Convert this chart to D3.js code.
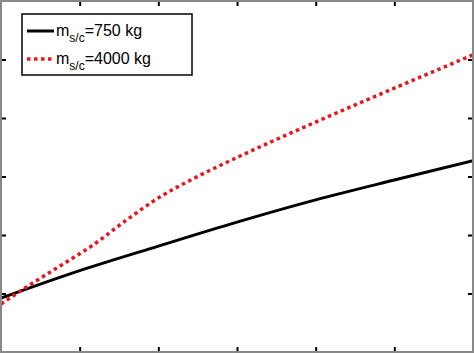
<!DOCTYPE html>
<html>
  <head>
    <meta charset="utf-8">
    <script src="https://d3js.org/d3.v7.min.js"></script>
    <style>
      body { margin: 0; background: white; }
      svg { display: block; font-family: 'Liberation Sans', Arial, sans-serif; }
    </style>
  </head>
  <body>
    <div id="wrapper"></div>
    <script>

const w = 474
const h = 353

// values (axis units, labels are cropped away)
const xTicks = [1, 2, 3, 4, 5]
const yTicks = [1, 2, 3, 4, 5]

const lightX = [0, 1, 2, 3, 4, 5, 6]
const lightY = [0.92, 1.39, 1.81, 2.22, 2.60, 2.94, 3.27]

const heavyX = [0, 0.37, 0.75, 1.17, 1.6, 2.02, 2.44, 3.04, 4, 5, 6]
const heavyY = [0.82, 1.15, 1.47, 1.83, 2.26, 2.65, 2.96, 3.35, 3.93, 4.51, 5.08]

const seriesNames = ["750 kg", "4000 kg"]

const x = d3.scaleLinear().domain([0, 6]).range([1, 473])
const y = d3.scaleLinear().domain([0, 6]).range([352, 1])

const svg = d3.select("#wrapper").append("svg")
  .attr("width", w)
  .attr("height", h)

svg.append("defs").append("clipPath").attr("id", "clip")
  .append("rect")
  .attr("x", 1).attr("y", 1).attr("width", 472).attr("height", 351)

const line = d3.line()
  .x(d => x(d[0]))
  .y(d => y(d[1]))
  .curve(d3.curveMonotoneX)

const plot = svg.append("g").attr("clip-path", "url(#clip)")

plot.append("path")
  .datum(d3.zip(lightX, lightY))
  .attr("d", line)
  .attr("fill", "none")
  .attr("stroke", "black")
  .attr("stroke-width", 3)

plot.append("path")
  .datum(d3.zip(heavyX, heavyY))
  .attr("d", line)
  .attr("fill", "none")
  .attr("stroke", "#e8151f")
  .attr("stroke-width", 3.5)
  .attr("stroke-dasharray", "3.5,3.5")

// inward ticks on all four sides, no labels
function styleAxis(g) {
  g.select(".domain").remove()
  g.selectAll(".tick line").attr("stroke", "black").attr("stroke-width", 2)
  g.selectAll(".tick text").remove()
}
svg.append("g").attr("transform", "translate(0,352)")
  .call(d3.axisBottom(x).tickValues(xTicks).tickSize(-5)).call(styleAxis)
svg.append("g").attr("transform", "translate(0,1)")
  .call(d3.axisTop(x).tickValues(xTicks).tickSize(-5)).call(styleAxis)
svg.append("g").attr("transform", "translate(1,0)")
  .call(d3.axisLeft(y).tickValues(yTicks).tickSize(-5)).call(styleAxis)
svg.append("g").attr("transform", "translate(473,0)")
  .call(d3.axisRight(y).tickValues(yTicks).tickSize(-5)).call(styleAxis)

svg.append("rect")
  .attr("x", 1).attr("y", 1).attr("width", 472).attr("height", 351)
  .attr("fill", "none")
  .attr("stroke", "#888")
  .attr("stroke-width", 2)

//legend
const legend = svg.append("g")
legend.append("rect")
  .attr("x", 22).attr("y", 14).attr("width", 170).attr("height", 61)
  .attr("fill", "white")
  .attr("stroke", "black")
  .attr("stroke-width", 1.5)

const legStyles = [
  {stroke: "black", width: 3, dash: null},
  {stroke: "#e8151f", width: 3.5, dash: "3.5,3.5"}
]
seriesNames.forEach((name, i) => {
  const ly = 31 + i * 28
  legend.append("line")
    .attr("x1", 27).attr("x2", 54).attr("y1", ly).attr("y2", ly)
    .attr("stroke", legStyles[i].stroke)
    .attr("stroke-width", legStyles[i].width)
    .attr("stroke-dasharray", legStyles[i].dash)
  const t = legend.append("text")
    .attr("x", 56).attr("y", ly + 4.5)
    .attr("font-size", 16)
    .attr("fill", "black")
  t.append("tspan").text("m")
  t.append("tspan").attr("dy", 6).attr("font-size", 12).text("s/c")
  t.append("tspan").attr("dy", -6).text("=" + name)
})

    </script>
  </body>
</html>
